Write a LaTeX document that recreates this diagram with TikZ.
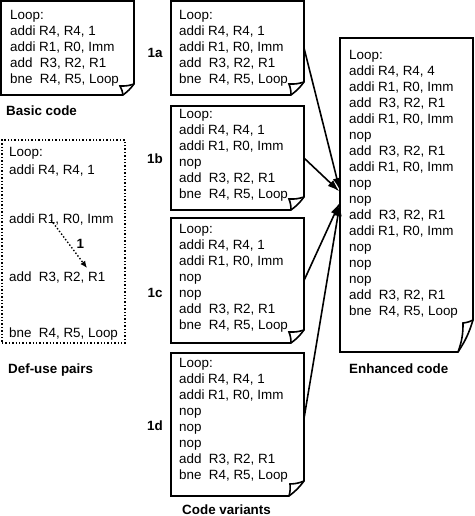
\documentclass[tikz,border=0pt]{standalone}
\usepackage{fontspec}
\setmainfont{Liberation Sans}
\usetikzlibrary{positioning}
\usetikzlibrary{arrows.meta}

% page outline with a folded bottom right corner
\newcommand{\foldbox}[5]{%
  \draw[docline] (#1.north west) -- (#1.north east) -- ([yshift=#3]#1.south east)
    to[bend left=8] ([xshift=-#2]#1.south east) -- (#1.south west) -- cycle;
  \draw[docline] ([yshift=#3]#1.south east) to[bend left=10] ([xshift=-#4, yshift=#5]#1.south east)
    to[bend left=10] ([xshift=-#2]#1.south east);
}

\begin{document}
\begin{tikzpicture}[x=1pt, y=1pt,
            docbox/.style={inner sep=0pt, outer sep=0pt, anchor=north west},
            docline/.style={line width=1.6pt, line join=miter},
            codetext/.style={inner sep=0pt, anchor=north west, align=left, font=\fontsize{13.4}{16}\selectfont},
            codeline/.style={inner sep=0pt, anchor=base west, font=\fontsize{13.4}{16}\selectfont},
            boldlabel/.style={inner sep=0pt, font=\bfseries\fontsize{13.4}{16}\selectfont},
            flow/.style={-{Latex[length=12pt, width=8pt]}, line width=1.6pt, shorten >=1pt},
            dupair/.style={-{Latex[length=7pt, width=6pt]}, line width=1.4pt, dotted},
            ]
            \useasboundingbox (0,0) rectangle (474,-516);

            % basic code
            \node[docbox, minimum width=133, minimum height=94] (basic) at (1,-1) {};
            \node[codetext] (basictxt) at (10,-10) {Loop:\\addi R4, R4, 1\\addi R1, R0, Imm\\add\ \ R3, R2, R1\\bne\ \ R4, R5, Loop};
            \foldbox{basic}{11}{11}{14}{9}
            \node[boldlabel, anchor=base west] (basiclbl) at (6,-115) {Basic code};

            % def-use pairs
            \node[docbox, minimum width=123, minimum height=203, draw, line width=1.4pt, dotted] (defuse) at (2,-140) {};
            \node[codeline] (duloop) at (9,-156.5) {Loop:};
            \node[codeline] (duinc) at (9,-174.5) {addi R4, R4, 1};
            \node[codeline] (dudef) at (9,-223.5) {addi R1, R0, Imm};
            \node[codeline] (duuse) at (9,-281.5) {add\ \ R3, R2, R1};
            \node[codeline] (dubne) at (9,-337.5) {bne\ \ R4, R5, Loop};
            \coordinate (duFrom) at (51,-220);
            \coordinate (duTo) at (87,-268);
            \draw[dupair] (duFrom) -- node[boldlabel, right=7pt] (dunum) {1} (duTo);
            \node[boldlabel, anchor=base west] (dulbl) at (8,-373) {Def-use pairs};

            % code variants
            \node[docbox, minimum width=133, minimum height=94] (v1a) at (171,-1) {};
            \node[codetext] (v1atxt) at (179,-10) {Loop:\\addi R4, R4, 1\\addi R1, R0, Imm\\add\ \ R3, R2, R1\\bne\ \ R4, R5, Loop};
            \foldbox{v1a}{13}{13}{15}{11}
            \node[boldlabel] (n1a) at (155,-53) {1a};

            \node[docbox, minimum width=133, minimum height=104] (v1b) at (171,-106) {};
            \node[codetext] (v1btxt) at (179,-109) {Loop:\\addi R4, R4, 1\\addi R1, R0, Imm\\nop\\add\ \ R3, R2, R1\\bne\ \ R4, R5, Loop};
            \foldbox{v1b}{13}{13}{15}{11}
            \node[boldlabel] (n1b) at (155,-159) {1b};

            \node[docbox, minimum width=133, minimum height=125] (v1c) at (171,-218) {};
            \node[codetext] (v1ctxt) at (179,-224) {Loop:\\addi R4, R4, 1\\addi R1, R0, Imm\\nop\\nop\\add\ \ R3, R2, R1\\bne\ \ R4, R5, Loop};
            \foldbox{v1c}{13}{13}{15}{11}
            \node[boldlabel] (n1c) at (155,-293) {1c};

            \node[docbox, minimum width=133, minimum height=143] (v1d) at (171,-353) {};
            \node[codetext] (v1dtxt) at (179,-358) {Loop:\\addi R4, R4, 1\\addi R1, R0, Imm\\nop\\nop\\nop\\add\ \ R3, R2, R1\\bne\ \ R4, R5, Loop};
            \foldbox{v1d}{15}{15}{14}{12}
            \node[boldlabel] (n1d) at (155,-426) {1d};
            \node[boldlabel, anchor=base west] (varlbl) at (182,-514) {Code variants};

            % enhanced code
            \node[docbox, minimum width=133, minimum height=314] (enh) at (340,-38) {};
            \node[codetext] (enhtxt) at (349,-50) {Loop:\\addi R4, R4, 4\\addi R1, R0, Imm\\add\ \ R3, R2, R1\\addi R1, R0, Imm\\nop\\add\ \ R3, R2, R1\\addi R1, R0, Imm\\nop\\nop\\add\ \ R3, R2, R1\\addi R1, R0, Imm\\nop\\nop\\nop\\add\ \ R3, R2, R1\\bne\ \ R4, R5, Loop};
            \foldbox{enh}{15}{32}{10}{29}
            \node[boldlabel, anchor=base west] (enhlbl) at (349,-373) {Enhanced code};

            \draw[flow] (v1a.east) -- ([yshift=4]enh.west);
            \draw[flow] (v1b.east) -- ([yshift=3]enh.west);
            \draw[flow] (v1c.east) -- ([yshift=-7]enh.west);
            \draw[flow] ([yshift=6]v1d.east) -- ([yshift=-8]enh.west);
        \end{tikzpicture}
\end{document}
